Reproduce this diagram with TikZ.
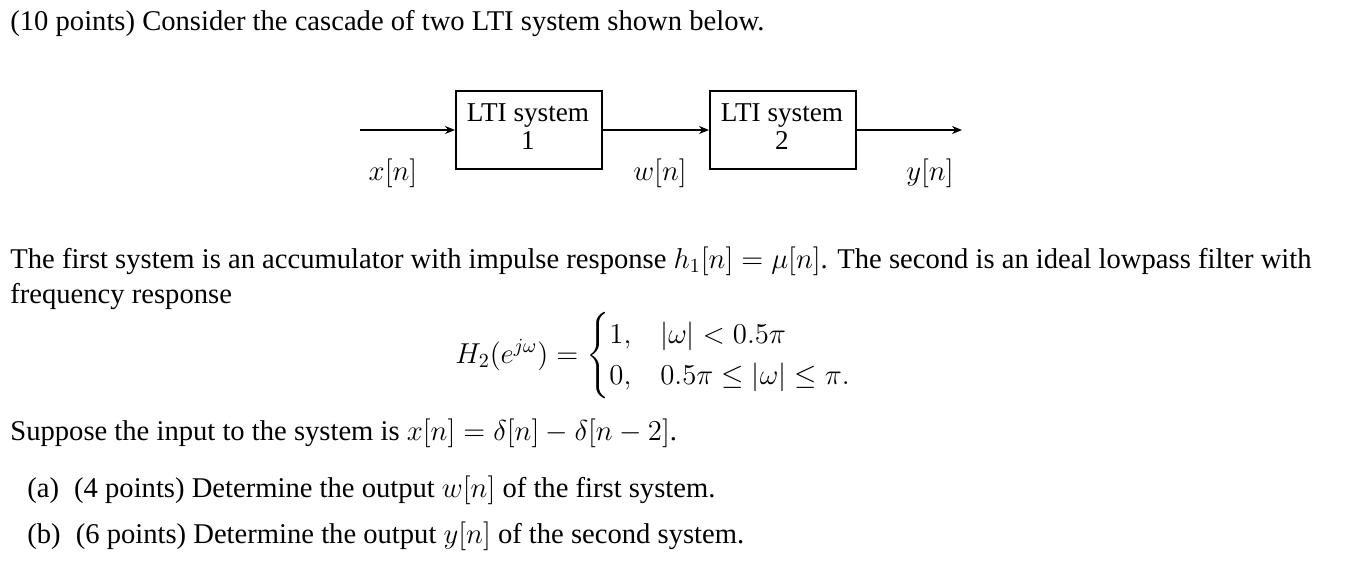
\documentclass[tikz,border=0pt]{standalone}
\usepackage{amsmath}
\usepackage{fontspec}
\setmainfont{Liberation Serif}
\usetikzlibrary{arrows.meta}
\begin{document}
\begin{tikzpicture}[x=0.5pt,y=-0.5pt,
  txt/.style={anchor=base west,inner sep=0pt,font=\fontsize{14.3}{17}\selectfont},
  box/.style={draw,line width=1pt,minimum width=73pt,minimum height=39pt,inner sep=0pt,anchor=north west},
  blab/.style={align=center,font=\fontsize{13.6}{14}\selectfont,inner sep=0pt},
  arr/.style={-{Stealth[length=5pt,width=4pt]},line width=0.6pt},
  lab/.style={font=\fontsize{14.5}{17}\selectfont,inner sep=0pt}]
\useasboundingbox (0,0) rectangle (1361,584);
\node[txt] (t1) at (10,30) {(10 points) Consider the cascade of two LTI system shown below.};
\node[box] (b1) at (455,90) {};
\node[box] (b2) at (709,90) {};
\node[blab,anchor=north] (l1) at (528,103) {LTI system\\1};
\node[blab,anchor=north] (l2) at (782,103) {LTI system\\2};
\coordinate (in) at (360,130);
\coordinate (out) at (962,130);
\draw[arr] (in) -- (b1.west|-in);
\draw[arr] (b1.east|-in) -- (b2.west|-in);
\draw[arr] (b2.east|-in) -- (out);
\node[lab] (x) at (393,173) {$x[n]$};
\node[lab] (w) at (660,173) {$w[n]$};
\node[lab] (y) at (930,173) {$y[n]$};
\node[txt] (p1) at (10,268) {The first system is an accumulator with impulse response $h_1[n]=\mu[n]$. The second is an ideal lowpass filter with};
\node[txt] (p2) at (10,303) {frequency response};
\node[lab,anchor=west] (eq) at (455,356) {$H_2(e^{j\omega})=\begin{cases}1, & |\omega|<0.5\pi\\ 0, & 0.5\pi\le|\omega|\le\pi.\end{cases}$};
\node[txt] (p3) at (10,440) {Suppose the input to the system is $x[n]=\delta[n]-\delta[n-2]$.};
\node[txt] (pa) at (27,497) {(a)\; (4 points) Determine the output $w[n]$ of the first system.};
\node[txt] (pb) at (27,543) {(b)\; (6 points) Determine the output $y[n]$ of the second system.};
\end{tikzpicture}
\end{document}
